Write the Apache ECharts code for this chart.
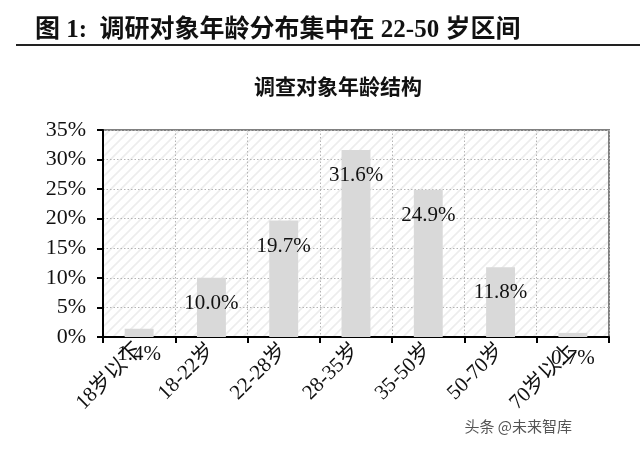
<!DOCTYPE html>
<html>
<head>
<meta charset="utf-8">
<script src="https://cdn.jsdelivr.net/npm/echarts@6/dist/echarts.min.js"></script>
<style>
  html, body { margin: 0; padding: 0; background: #fff; }
  #chart { width: 640px; height: 450px; }
</style>
</head>
<body>
<div id="chart"></div>
<script>
// 年龄段
const categories = ["18岁以下", "18-22岁", "22-28岁", "28-35岁", "35-50岁", "50-70岁", "70岁以上"];
// 占比 (%)
const shares = [1.4, 10.0, 19.7, 31.6, 24.9, 11.8, 0.7];
const yTicks = [0, 5, 10, 15, 20, 25, 30, 35];

const serif = '"Liberation Serif", "Noto Sans CJK SC", serif';

// 斜线底纹
function hatch() {
  const c = document.createElement("canvas");
  c.width = 10;
  c.height = 10;
  const ctx = c.getContext("2d");
  ctx.fillStyle = "#ffffff";
  ctx.fillRect(0, 0, 10, 10);
  ctx.strokeStyle = "#ededed";
  ctx.lineWidth = 1.6;
  ctx.beginPath();
  ctx.moveTo(-1, 11); ctx.lineTo(11, -1);
  ctx.moveTo(-1, 1); ctx.lineTo(1, -1);
  ctx.moveTo(9, 11); ctx.lineTo(11, 9);
  ctx.stroke();
  return c;
}

const chart = echarts.init(document.getElementById("chart"));
chart.setOption({
  animation: false,
  backgroundColor: "#fff",
  title: [
    {
      text: "图 1:  调研对象年龄分布集中在 22-50 岁区间",
      left: 30,
      top: 13,
      textStyle: { fontFamily: serif, fontSize: 25, fontWeight: "bold", color: "#111" }
    },
    {
      text: "调查对象年龄结构",
      left: 333,
      textAlign: "center",
      top: 71,
      textStyle: { fontFamily: '"Noto Sans CJK SC", sans-serif', fontSize: 21, fontWeight: "bold", color: "#111" }
    }
  ],
  graphic: [
    {
      type: "line",
      shape: { x1: 16, y1: 45, x2: 640, y2: 45 },
      style: { stroke: "#222", lineWidth: 2 }
    },
    {
      type: "text",
      right: 68,
      top: 419,
      style: { text: "头条 @未来智库", fill: "#555", font: '15px "Noto Sans CJK SC", sans-serif' }
    }
  ],
  grid: {
    left: 103,
    right: 31,
    top: 130,
    bottom: 113,
    show: true,
    backgroundColor: { image: hatch(), repeat: "repeat" },
    borderColor: "#808080",
    borderWidth: 2
  },
  xAxis: {
    type: "category",
    data: categories,
    axisLine: { lineStyle: { color: "#000", width: 2 } },
    axisTick: { show: true, length: 6, lineStyle: { color: "#000", width: 2 } },
    axisLabel: {
      rotate: 45,
      interval: 0,
      margin: 10,
      fontFamily: serif,
      fontSize: 21,
      color: "#111"
    },
    splitLine: { show: true, lineStyle: { color: "#b4b4b4", type: [1.5, 2] } }
  },
  yAxis: {
    type: "value",
    min: yTicks[0],
    max: yTicks[yTicks.length - 1],
    interval: 5,
    axisLine: { show: true, lineStyle: { color: "#000", width: 2 } },
    axisTick: { show: true, length: 6, lineStyle: { color: "#000", width: 2 } },
    axisLabel: {
      formatter: "{value}%",
      fontFamily: serif,
      fontSize: 22,
      color: "#111",
      margin: 17
    },
    splitLine: { show: true, lineStyle: { color: "#b4b4b4", type: [1.5, 2] } }
  },
  series: [
    {
      type: "bar",
      data: shares,
      barWidth: "40%",
      itemStyle: { color: "#d9d9d9" },
      label: {
        show: true,
        position: "insideTop",
        distance: 15,
        formatter: p => p.value.toFixed(1) + "%",
        fontFamily: serif,
        fontSize: 21,
        color: "#111"
      }
    }
  ]
});
</script>
</body>
</html>
